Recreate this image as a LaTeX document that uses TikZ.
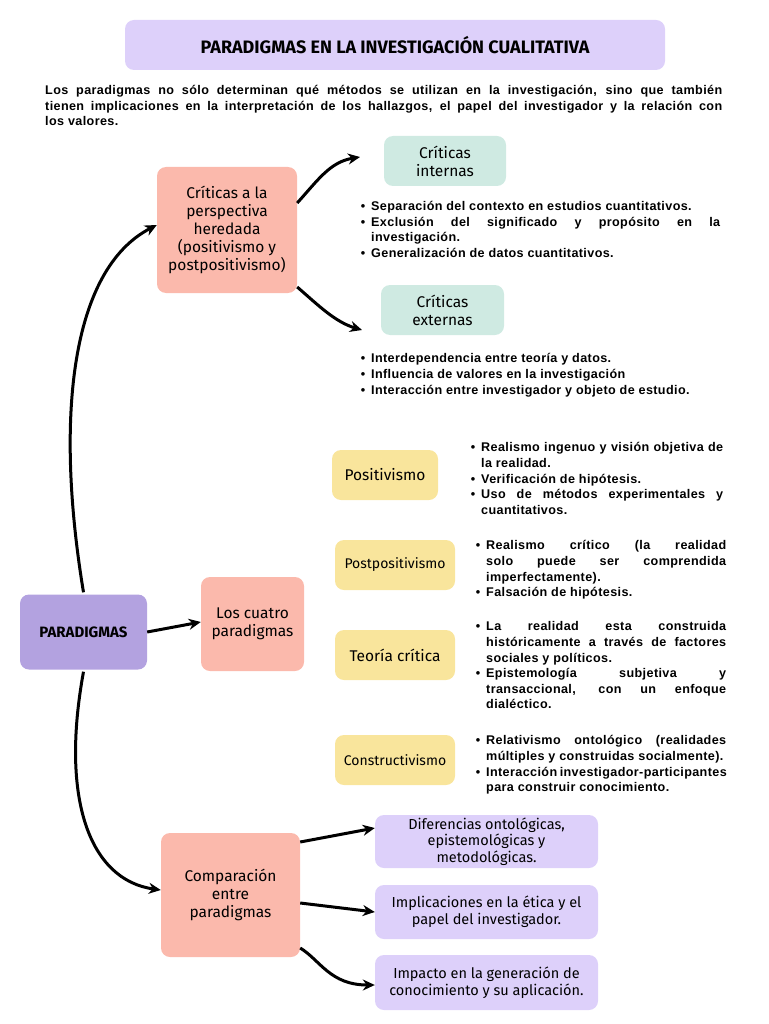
\documentclass[tikz,border=0pt]{standalone}
\usepackage{fontspec}
\setmainfont{Liberation Sans}
\newfontfamily\handfont{Fira Sans}
\usetikzlibrary{arrows.meta}
\definecolor{titlepurple}{HTML}{DDD0FA}
\definecolor{darkpurple}{HTML}{B3A2E0}
\definecolor{salmon}{HTML}{FBB9AC}
\definecolor{mint}{HTML}{CFEAE2}
\definecolor{sand}{HTML}{F9E59C}
\newcommand{\nohy}{\hyphenpenalty=10000\exhyphenpenalty=10000\relax}
\newcommand{\txtfont}{\bfseries\fontsize{12.6}{15.6}\selectfont\addfontfeatures{LetterSpace=3}}
\tikzset{
  box/.style={rounded corners=9pt, align=center, inner sep=2pt, font=\handfont\fontsize{15.5}{18}\selectfont},
  arr/.style={line width=3pt, -{Stealth[length=12pt,width=11pt]}},
  txt/.style={align=justify, font=\txtfont, execute at begin node=\nohy, anchor=north west, inner sep=0pt},
}
\newcommand{\bul}[1]{\begin{list}{\textbullet}{\setlength{\topsep}{0pt}\setlength{\partopsep}{0pt}\setlength{\itemsep}{0pt}\setlength{\parsep}{0pt}\setlength{\leftmargin}{16pt}\setlength{\labelsep}{6pt}}#1\end{list}}
\begin{document}
\begin{tikzpicture}[x=1pt,y=-1pt]
\useasboundingbox (0,0) rectangle (768,1024);
% titulo
\node[box, fill=titlepurple, minimum width=540pt, minimum height=50pt, font=\handfont\bfseries\fontsize{18}{20}\selectfont] (title) at (395,45) {PARADIGMAS EN LA INVESTIGACIÓN CUALITATIVA};
\node[txt, text width=677pt] (intro) at (45,85) {Los paradigmas no sólo determinan qué métodos se utilizan en la investigación, sino que también\linebreak tienen implicaciones en la interpretación de los hallazgos, el papel del investigador y la relación con\linebreak los valores.};

% nodos
\node[box, fill=darkpurple, minimum width=127pt, minimum height=75pt, font=\handfont\bfseries\fontsize{15}{18}\selectfont] (par) at (83.5,632) {PARADIGMAS};
\node[box, fill=salmon, minimum width=140pt, minimum height=126pt] (her) at (227,230) {Críticas a la\\perspectiva\\heredada\\(positivismo y\\postpositivismo)};
\node[box, fill=salmon, minimum width=103pt, minimum height=94pt] (cua) at (252.5,624) {Los cuatro\\paradigmas};
\node[box, fill=salmon, minimum width=139pt, minimum height=124pt] (com) at (230.5,895) {Comparación\\entre\\paradigmas};

\node[box, fill=mint, minimum width=122pt, minimum height=50pt] (int) at (445,161) {Críticas\\internas};
\node[box, fill=mint, minimum width=123pt, minimum height=50pt] (ext) at (442.5,310) {Críticas\\externas};

\node[box, fill=sand, minimum width=106pt, minimum height=50pt] (pos) at (385,475) {Positivismo};
\node[box, fill=sand, minimum width=120pt, minimum height=50pt, font=\handfont\fontsize{14}{17}\selectfont] (post) at (395,565) {Postpositivismo};
\node[box, fill=sand, minimum width=120pt, minimum height=50pt] (teo) at (395,655) {Teoría crítica};
\node[box, fill=sand, minimum width=120pt, minimum height=50pt, font=\handfont\fontsize{14}{17}\selectfont] (con) at (395,760) {Constructivismo};

\node[box, fill=titlepurple, minimum width=223pt, minimum height=53pt, font=\handfont\fontsize{14.5}{16.5}\selectfont] (dif) at (486.5,841.5) {Diferencias ontológicas,\\epistemológicas y\\metodológicas.};
\node[box, fill=titlepurple, minimum width=223pt, minimum height=54pt, font=\handfont\fontsize{14.5}{17}\selectfont] (imp) at (486.5,912) {Implicaciones en la ética y el\\papel del investigador.};
\node[box, fill=titlepurple, minimum width=223pt, minimum height=55pt, font=\handfont\fontsize{14.5}{17}\selectfont] (gen) at (486.5,982.5) {Impacto en la generación de\\conocimiento y su aplicación.};

% textos
\node[txt, text width=365pt] (tint) at (355,195) {\bul{\item Separación del contexto en estudios cuantitativos.\item Exclusión del significado y propósito en la investigación.\item Generalización de datos cuantitativos.}};
\node[txt, text width=365pt] (text) at (355,347) {\bul{\item Interdependencia entre teoría y datos.\item Influencia de valores en la investigación\item Interacción entre investigador y objeto de estudio.}};
\node[txt, text width=258pt] (tpos) at (465,436) {\bul{\item Realismo ingenuo y visión objetiva de la realidad.\item Verificación de hipótesis.\item Uso de métodos experimentales y cuantitativos.}};
\node[txt, text width=256pt] (tpost) at (470,534) {\bul{\item Realismo crítico (la realidad solo puede ser comprendida imperfectamente).\item Falsación de hipótesis.}};
\node[txt, text width=256pt] (tteo) at (470,615) {\bul{\item La realidad esta construida históricamente a través de factores sociales y políticos.\item Epistemología subjetiva y transaccional, con un enfoque dialéctico.}};
\node[txt, text width=256pt] (tcon) at (470,729) {\bul{\item Relativismo ontológico (realidades múltiples y construidas socialmente).\item Interacción investigador-participantes para construir conocimiento.}};

% flechas
\coordinate (ia) at (360,157);
\coordinate (ea) at (362,330);
\draw[arr] (par.north) ++(0,-2) .. controls (55,420) and (70,270) .. (her.west |- 0,225);
\draw[arr] (par.south) ++(0,2) .. controls (60,800) and (90,880) .. (com.west |- 0,890);
\draw[arr] (par.east) -- (cua.west |- 0,622);
\draw[arr] (her.east |- 0,203) .. controls (318,180) and (330,162) .. (ia);
\draw[arr] (her.east |- 0,287) .. controls (318,305) and (335,322) .. (ea);
\draw[arr] (com.east |- 0,842) -- (dif.west |- 0,828);
\draw[arr] (com.east |- 0,903) -- (imp.west |- 0,912);
\draw[arr] (com.east |- 0,948) .. controls (320,960) and (330,985) .. (gen.west |- 0,985);
\end{tikzpicture}
\end{document}
